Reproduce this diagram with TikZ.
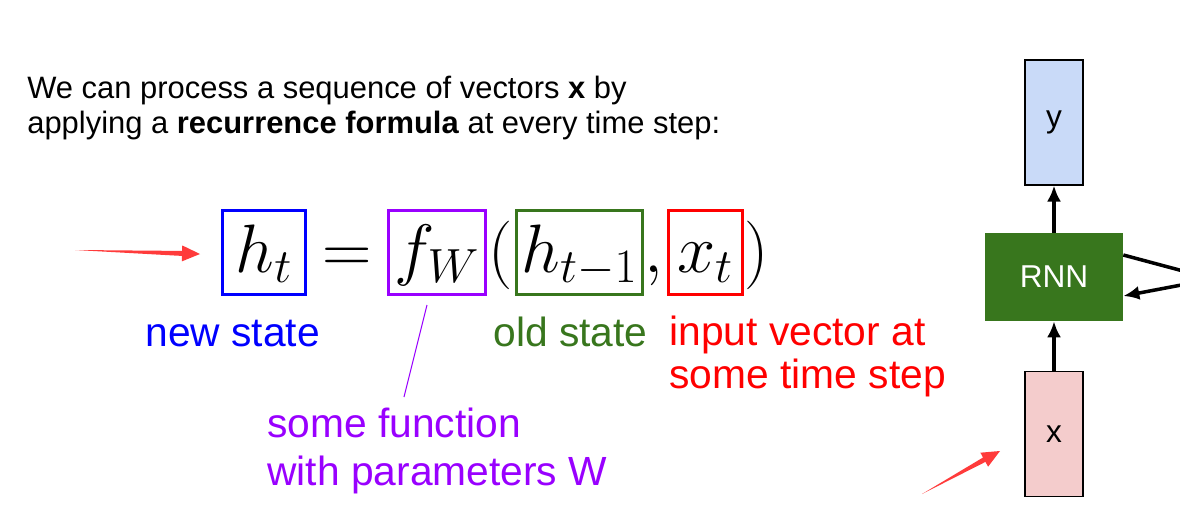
\documentclass[tikz,border=0pt]{standalone}
\usepackage{fix-cm}
\usepackage{amsmath}
\usepackage[no-math]{fontspec}
\setmainfont{Liberation Sans}
\usetikzlibrary{calc,arrows.meta}

\definecolor{stateblue}{HTML}{0000FF}
\definecolor{fnpurple}{HTML}{9900FF}
\definecolor{oldgreen}{HTML}{38761D}
\definecolor{inred}{HTML}{FF0000}
\definecolor{markred}{HTML}{FF3B3B}
\definecolor{yfill}{HTML}{C9DAF8}
\definecolor{xfill}{HTML}{F4CCCC}

\tikzset{
	termbox/.style={draw, line width=0.06cm, anchor=base, text height=1.04cm, text depth=0.26cm,
		inner ysep=0.2cm, inner xsep=0pt, font=\fontsize{39}{43}\selectfont},
	sym/.style={anchor=base, inner sep=0pt, font=\fontsize{39}{43}\selectfont},
	lbl/.style={anchor=base west, inner sep=0pt, font=\fontsize{23.2}{27}\selectfont},
	intro/.style={anchor=base west, inner sep=0pt, font=\fontsize{17.6}{21}\selectfont},
	vecbox/.style={draw, line width=0.6pt, minimum width=1.16cm, minimum height=2.5cm,
		inner sep=0pt, font=\fontsize{18}{21}\selectfont},
	flow/.style={line width=2pt, -{Latex[length=0.32cm,width=0.28cm]}},
}

% tapered marker arrow from #1 to #2
\newcommand{\markarrow}[2]{%
	\coordinate (hb) at ($(#2)!0.36cm!(#1)$);
	\fill[markred] (#1) -- ($(hb)!0.05cm!90:(#2)$) -- ($(hb)!0.16cm!90:(#2)$) -- (#2)
		-- ($(hb)!0.16cm!-90:(#2)$) -- ($(hb)!0.05cm!-90:(#2)$) -- cycle;
}

\begin{document}
\begin{tikzpicture}[x=0.02cm, y=-0.02cm]
	\clip (0,0) rectangle (1180,524);
	\fill[white] (0,0) rectangle (1180,524);

	\node[intro] (line1) at (27,98) {We can process a sequence of vectors \textbf{x} by};
	\node[intro] (line2) at (27,133) {applying a \textbf{recurrence formula} at every time step:};

	% the formula
	\node[termbox, stateblue, minimum width=1.68cm] (ht) at (264,272) {\color{black}$h_t$};
	\node[sym] (eq) at (347,272) {$=$};
	\node[termbox, fnpurple, minimum width=1.96cm] (fw) at (437,272) {\color{black}$f_W$};
	\node[sym] (lp) at (501,272) {$($};
	\node[termbox, oldgreen, minimum width=2.54cm] (hprev) at (579.5,272) {\color{black}$h_{t-1}$};
	\node[sym] (comma) at (654,272) {$,$};
	\node[termbox, inred, minimum width=1.48cm] (xt) at (705,272) {\color{black}$x_t$};
	\node[sym] (rp) at (757,272) {$)$};

	% labels
	\node[lbl, stateblue] (newlab) at (145,346) {new state};
	\node[lbl, oldgreen] (oldlab) at (493,346) {old state};
	\node[lbl, inred] (inlabA) at (669,345) {input vector at};
	\node[lbl, inred] (inlabB) at (669,388) {some time step};
	\node[lbl, fnpurple] (fnlabA) at (267,437) {some function};
	\node[lbl, fnpurple] (fnlabB) at (267,485) {with parameters W};
	\coordinate (fwtip) at (427,305);
	\coordinate (fnend) at (404,397);
	\draw[fnpurple, line width=0.6pt] (fwtip) -- (fnend);

	% rnn
	\node[vecbox, fill=yfill] (y) at (1054,122.5) {y};
	\node[fill=oldgreen, text=white, minimum width=2.76cm, minimum height=1.76cm,
		font=\fontsize{18}{21}\selectfont] (rnn) at (1054,277) {RNN};
	\node[vecbox, fill=xfill] (x) at (1054,434) {x};
	\draw[flow] (x) -- (rnn);
	\draw[flow] (rnn) -- (y);
	\coordinate (loop) at (1213,279);
	\draw[flow] ([yshift=0.44cm]rnn.east) -- (loop) -- ([yshift=-0.38cm]rnn.east);

	% markers
	\coordinate (leftTail) at (75,250);
	\coordinate (leftTip) at (200,254);
	\markarrow{leftTail}{leftTip}
	\coordinate (lowTail) at (922,494);
	\coordinate (lowTip) at (1000,451);
	\markarrow{lowTail}{lowTip}
\end{tikzpicture}
\end{document}
